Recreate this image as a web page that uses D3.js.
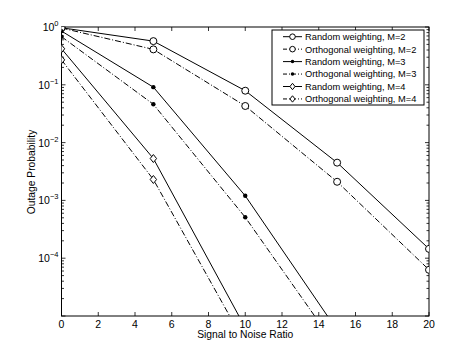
<!DOCTYPE html>
<html><head><meta charset="utf-8">
<script src="https://cdn.jsdelivr.net/npm/d3@7"></script>
<style>body{margin:0;background:#fff}svg{display:block}text{font-family:"Liberation Sans",Arial,sans-serif;fill:#000}</style>
</head><body>
<script>
const snr = [0, 5, 10, 15, 20];
const randomM2 = [0.97, 0.57, 0.079, 0.0045, 0.000145];
const orthoM2  = [0.96, 0.41, 0.043, 0.0021, 0.000063];
const snrM3 = [0, 5, 10, 15];
const randomM3 = [0.85, 0.091, 0.0012, 0.0000057];
const orthoM3  = [0.68, 0.046, 0.00051, 0.0000028];
const snrM4 = [0, 5, 10];
const randomM4 = [0.42, 0.0053, 0.0000063];
const orthoM4  = [0.27, 0.0023, 0.0000033];
const seriesNames = ["Random weighting, M=2","Orthogonal weighting, M=2","Random weighting, M=3","Orthogonal weighting, M=3","Random weighting, M=4","Orthogonal weighting, M=4"];
const xTicks = [0,2,4,6,8,10,12,14,16,18,20];
const yTickExps = [0,-1,-2,-3,-4];

const W=474,H=355;
const m={l:61.5,r:45,t:27,b:39};
const svg=d3.select("body").append("svg").attr("width",W).attr("height",H);
const x=d3.scaleLinear().domain([0,20]).range([m.l,W-m.r]);
const y=d3.scaleLog().domain([1e-5,1]).range([H-m.b,m.t]);
const x0=m.l,x1=W-m.r,y0=H-m.b,y1=m.t;

svg.append("defs").append("clipPath").attr("id","clip").append("rect")
  .attr("x",x0).attr("y",y1).attr("width",x1-x0).attr("height",y0-y1);

// ticks
const g=svg.append("g").attr("stroke","#000").attr("stroke-width",0.8);
xTicks.forEach(t=>{
  g.append("line").attr("x1",x(t)).attr("x2",x(t)).attr("y1",y0).attr("y2",y0-4);
  g.append("line").attr("x1",x(t)).attr("x2",x(t)).attr("y1",y1).attr("y2",y1+4);
});
for(let e=-5;e<=0;e++){
  g.append("line").attr("x1",x0).attr("x2",x0+4).attr("y1",y(10**e)).attr("y2",y(10**e));
  g.append("line").attr("x1",x1).attr("x2",x1-4).attr("y1",y(10**e)).attr("y2",y(10**e));
  if(e<0) for(let k=2;k<=9;k++){
    const v=k*10**(e);
    g.append("line").attr("x1",x0).attr("x2",x0+2.5).attr("y1",y(v)).attr("y2",y(v));
    g.append("line").attr("x1",x1).attr("x2",x1-2.5).attr("y1",y(v)).attr("y2",y(v));
  }
}
svg.append("rect").attr("x",x0).attr("y",y1).attr("width",x1-x0).attr("height",y0-y1)
  .attr("fill","none").attr("stroke","#000").attr("stroke-width",1);

// tick labels
xTicks.forEach(t=>{
  svg.append("text").attr("x",x(t)).attr("y",y0+12).attr("text-anchor","middle").attr("font-size",10.5).text(t);
});
yTickExps.forEach(e=>{
  const t=svg.append("text").attr("x",x0-3).attr("y",y(10**e)+4).attr("text-anchor","end").attr("font-size",10.5);
  t.append("tspan").text("10");
  t.append("tspan").attr("dy",-5).attr("font-size",7.5).text(e===0?"0":"\u2212"+(-e));
});
svg.append("text").attr("x",(x0+x1)/2).attr("y",338).attr("text-anchor","middle").attr("font-size",10.3).text("Signal to Noise Ratio");
svg.append("text").attr("transform",`translate(35,172) rotate(-90)`).attr("text-anchor","middle").attr("font-size",10.3).text("Outage Probability");

const series=[
  {xs:snr,ys:randomM2,dash:null,mk:"circle"},
  {xs:snr,ys:orthoM2,dash:"6,2,1,2",mk:"circle"},
  {xs:snrM3,ys:randomM3,dash:null,mk:"dot"},
  {xs:snrM3,ys:orthoM3,dash:"6,2,1,2",mk:"dot"},
  {xs:snrM4,ys:randomM4,dash:null,mk:"diamond"},
  {xs:snrM4,ys:orthoM4,dash:"6,2,1,2",mk:"diamond"}
];
const line=d3.line().x(d=>x(d[0])).y(d=>y(d[1]));
const pg=svg.append("g").attr("clip-path","url(#clip)");
function marker(sel,type,cx,cy,sc){
  sc=sc||1;
  if(type==="circle") sel.append("circle").attr("cx",cx).attr("cy",cy).attr("r",3.5*sc).attr("fill","#fff").attr("stroke","#000").attr("stroke-width",1);
  else if(type==="dot") sel.append("circle").attr("cx",cx).attr("cy",cy).attr("r",2.2*sc).attr("fill","#000");
  else sel.append("path").attr("d",`M${cx},${cy-4*sc}L${cx+3.2*sc},${cy}L${cx},${cy+4*sc}L${cx-3.2*sc},${cy}Z`).attr("fill","#fff").attr("stroke","#000").attr("stroke-width",1);
}
series.forEach(s=>{
  const pts=s.xs.map((v,i)=>[v,s.ys[i]]);
  pg.append("path").datum(pts).attr("d",line).attr("fill","none").attr("stroke","#000").attr("stroke-width",1)
    .attr("stroke-dasharray",s.dash);
  pts.forEach(p=>{ if(y(p[1])<=y0+1) marker(pg,s.mk,x(p[0]),y(p[1])); });
});

// legend
const lx=272,ly=30,lw=152,lh=75;
const lg=svg.append("g");
lg.append("rect").attr("x",lx).attr("y",ly).attr("width",lw).attr("height",lh).attr("fill","#fff").attr("stroke","#000").attr("stroke-width",1);
series.forEach((s,i)=>{
  const yy=ly+6.7+i*12.45;
  lg.append("line").attr("x1",lx+11).attr("x2",lx+30).attr("y1",yy).attr("y2",yy).attr("stroke","#000").attr("stroke-width",1).attr("stroke-dasharray",s.dash?"4,2,1,2":null);
  marker(lg,s.mk,lx+20.5,yy,0.8);
  lg.append("text").attr("x",lx+33).attr("y",yy+3.4).attr("font-size",9.3).text(seriesNames[i]);
});
</script>
</body></html>
